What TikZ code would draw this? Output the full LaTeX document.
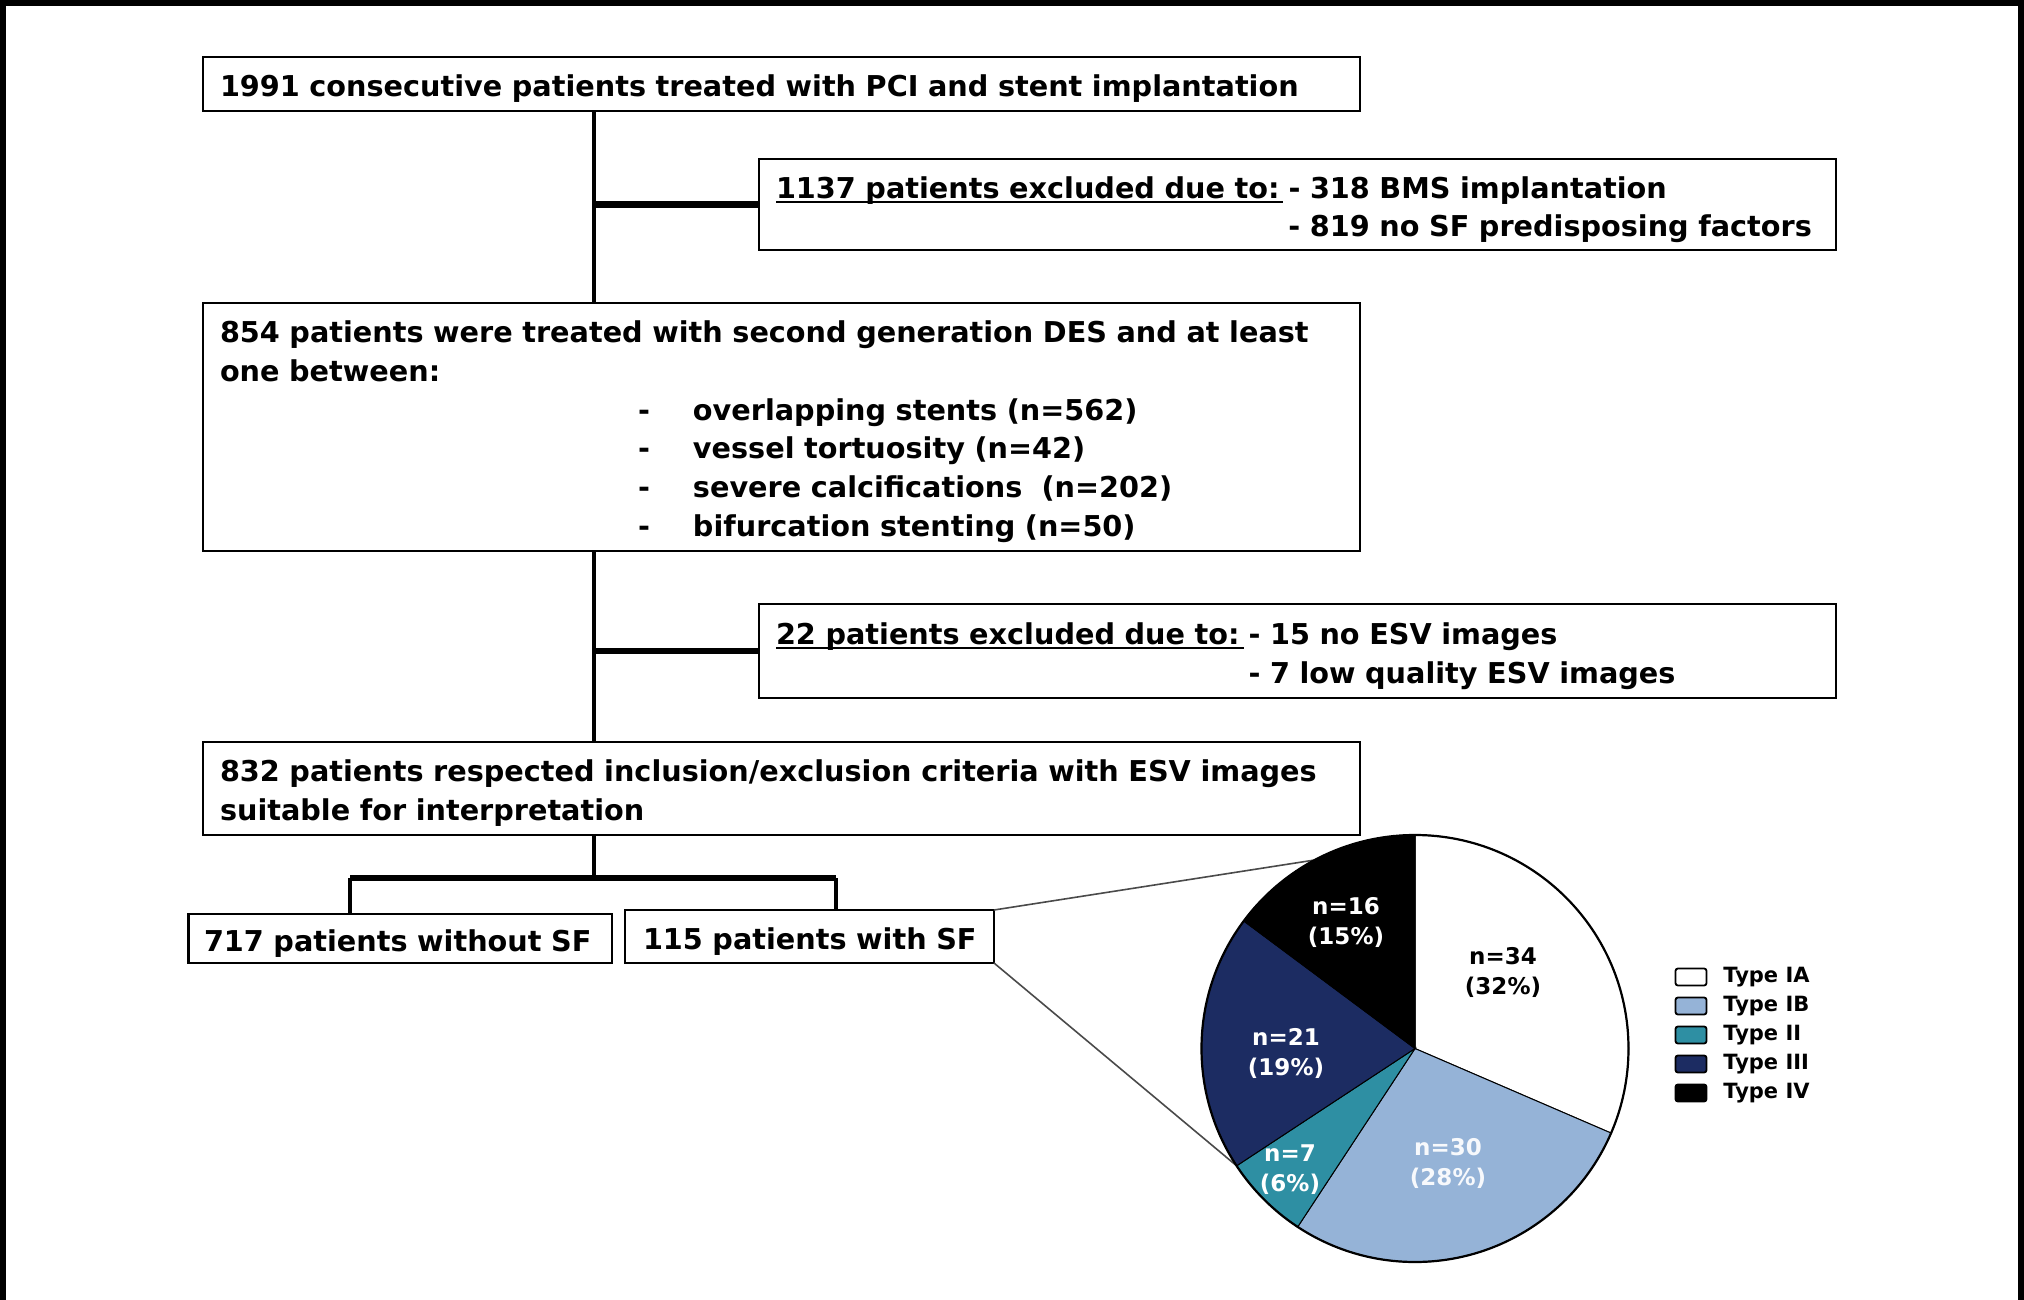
\documentclass[tikz,border=0pt]{standalone}
\usepackage{fontspec}
\setmainfont{DejaVu Sans}
\definecolor{tIB}{HTML}{95B3D7}
\definecolor{tII}{HTML}{2E8FA3}
\definecolor{tIII}{HTML}{1C2C62}
\definecolor{zoomgray}{HTML}{4A4A4A}
\newcommand\mainfnt{\fontsize{14.35pt}{19.4pt}\selectfont\bfseries}
\newcommand\piefnt{\fontsize{11.5pt}{15pt}\selectfont\bfseries}
\newcommand\legfnt{\fontsize{10.5pt}{12pt}\selectfont\bfseries}
\newcommand\myul[1]{\setbox0=\hbox{#1}\rlap{\rule[-2.3pt]{\wd0}{1pt}}\box0}
\newcommand\bul{\hspace*{209pt}\makebox[27.5pt][l]{-}}
\newcommand\topstrut{\rule{0pt}{15.5pt}}
\newcommand\tabstrut{\rule{0pt}{18.8pt}}
\begin{document}
\begin{tikzpicture}[x=0.5pt,y=-0.5pt,
  box/.style={draw, line width=1.25pt, fill=white, anchor=north west, align=left,
    inner xsep=8.5pt, inner ysep=0pt, outer sep=0pt, font=\mainfnt},
  trunk/.style={line width=2pt},
  branch/.style={line width=3.2pt},
  zoomline/.style={line width=0.8pt, zoomgray},
  slice/.style={draw=black, line width=0.5pt},
  plbl/.style={font=\piefnt, align=center, inner sep=0pt},
  legbox/.style={draw, line width=0.9pt, rounded corners=1.2pt, minimum width=15.5pt, minimum height=8.5pt, inner sep=0pt},
  legtxt/.style={font=\legfnt, anchor=west, inner sep=0pt}]
\useasboundingbox (0,0) rectangle (2024,1300);
\fill[white] (0,0) rectangle (2024,1300);
\draw[line width=3pt] (3,1300) -- (3,3) -- (2021,3) -- (2021,1300);

% boxes
\node[box, text width=561.5pt, minimum height=27pt] (b1) at (203,57)
  {\topstrut\mbox{1991 consecutive patients treated with PCI and stent implantation}};
\node[box, text width=521.5pt, minimum height=45.5pt] (e1) at (759,159)
  {\begin{tabular}{@{}l@{}l@{}}\tabstrut\myul{1137 patients excluded due to:\kern2pt}\kern2.5pt & - 318 BMS implantation\\ & - 819 no SF predisposing factors\end{tabular}};
\node[box, text width=561.5pt, minimum height=124pt] (b2) at (203,303)
  {\topstrut\mbox{854 patients were treated with second generation DES and at least}\\
   one between:\\
   \bul overlapping stents (n=562)\\
   \bul vessel tortuosity (n=42)\\
   \bul severe calcifications\ \ (n=202)\\
   \bul bifurcation stenting (n=50)};
\node[box, text width=521.5pt, minimum height=47pt] (e2) at (759,604)
  {\begin{tabular}{@{}l@{}l@{}}\tabstrut\myul{22 patients excluded due to:\kern2pt}\kern2.5pt & - 15 no ESV images\\ & - 7 low quality ESV images\end{tabular}};
\node[box, text width=561.5pt, minimum height=46.5pt] (b3) at (203,742)
  {\topstrut\mbox{832 patients respected inclusion/exclusion criteria with ESV images}\\
   suitable for interpretation};
\node[box, inner xsep=7.75pt, text width=196.25pt, minimum height=24.5pt] (b4) at (188.5,914)
  {\topstrut\mbox{717 patients without SF}};
\node[box, inner xsep=9pt, text width=166.5pt, minimum height=26.5pt] (b5) at (625,910)
  {\topstrut\mbox{115 patients with SF}};

% connectors
\coordinate (tx) at (594,0);
\coordinate (s4) at (350,878);
\coordinate (s5) at (836,878);
\draw[trunk] (b1.south -| tx) -- (b2.north -| tx);
\draw[trunk] (b2.south -| tx) -- (b3.north -| tx);
\draw[branch] (e1.west -| tx) -- (e1.west);
\draw[branch] (e2.west -| tx) -- (e2.west);
\draw[trunk] (b3.south -| tx) -- (tx |- s4);
\draw[branch] (s4) -- (s5);
\draw[trunk] (s4) -- (s4 |- b4.north);
\draw[trunk] (s5) -- (s5 |- b5.north);

% pie
\coordinate (pc) at (1415,1048.5);
\path (pc) ++(118:106.75pt) coordinate (z1);
\path (pc) ++(-146.67:106.75pt) coordinate (z2);
\draw[zoomline] (b5.north east) -- (z1);
\draw[zoomline] (b5.south east) -- (z2);
\filldraw[slice, fill=white] (pc) -- ++(90:106.75pt) arc[start angle=90, end angle=-23.33, radius=106.75pt] -- cycle;
\filldraw[slice, fill=tIB] (pc) -- ++(-23.33:106.75pt) arc[start angle=-23.33, end angle=-123.33, radius=106.75pt] -- cycle;
\filldraw[slice, fill=tII] (pc) -- ++(-123.33:106.75pt) arc[start angle=-123.33, end angle=-146.67, radius=106.75pt] -- cycle;
\filldraw[slice, fill=tIII] (pc) -- ++(-146.67:106.75pt) arc[start angle=-146.67, end angle=-216.67, radius=106.75pt] -- cycle;
\filldraw[slice, fill=black] (pc) -- ++(-216.67:106.75pt) arc[start angle=-216.67, end angle=-270, radius=106.75pt] -- cycle;
\draw[line width=1.1pt] (pc) circle[radius=106.75pt];

\node[plbl, text=white] (l16) at (1346,922.5) {n=16\\(15\%)};
\node[plbl, text=black] (l34) at (1503,972) {n=34\\(32\%)};
\node[plbl, text=white] (l21) at (1286,1053) {n=21\\(19\%)};
\node[plbl, text=white] (l7) at (1290,1169.5) {n=7\\(6\%)};
\node[plbl, text=white!92!tIB] (l30) at (1448,1163) {n=30\\(28\%)};

% legend
\node[legbox, fill=white] (g1) at (1691,977) {};
\node[legbox, fill=tIB] (g2) at (1691,1006) {};
\node[legbox, fill=tII] (g3) at (1691,1035) {};
\node[legbox, fill=tIII] (g4) at (1691,1064) {};
\node[legbox, fill=black] (g5) at (1691,1093) {};
\node[legtxt] (t1) at (1723,977) {Type IA};
\node[legtxt] (t2) at (1723,1006) {Type IB};
\node[legtxt] (t3) at (1723,1035) {Type II};
\node[legtxt] (t4) at (1723,1064) {Type III};
\node[legtxt] (t5) at (1723,1093) {Type IV};
\end{tikzpicture}
\end{document}
